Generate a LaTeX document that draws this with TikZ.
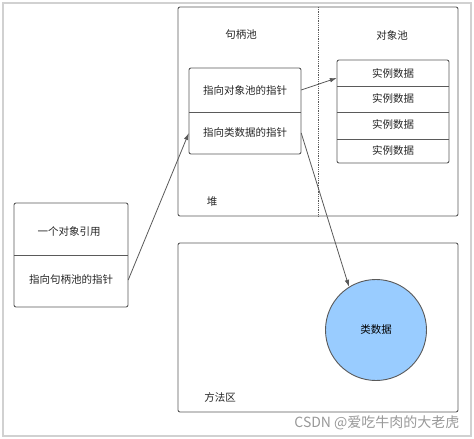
\documentclass[tikz,border=0pt]{standalone}
\usepackage{fontspec}
\setmainfont{Noto Sans CJK SC}
\usetikzlibrary{arrows.meta,calc}
\definecolor{ln}{HTML}{5A5A5A}
\definecolor{cfill}{HTML}{99CCFF}
\tikzset{
  box/.style={draw=ln, line width=0.9pt, rounded corners=2pt},
  cell/.style={inner sep=0pt, minimum width=#1, font=\fontsize{10.5}{12}\selectfont, text=black!85},
  lbl/.style={font=\fontsize{10.5}{12}\selectfont, text=black!85},
  arr/.style={draw=ln, line width=0.8pt, -{Latex[length=7pt,width=4.5pt]}},
}
\begin{document}
\begin{tikzpicture}[x=1pt,y=-1pt]
\useasboundingbox (0,0) rectangle (474,439);
\fill[white] (0,0) rectangle (474,439);
\draw[black!18, line width=1.2pt] (3,3) rectangle (471,436);
% heap
\draw[box] (178,7) rectangle (458,216);
\draw[ln, line width=0.8pt, densely dotted] (318,7) -- (318,216);
\node[lbl] (hp) at (241,35) {句柄池};
\node[lbl] (op) at (392,35) {对象池};
\node[lbl] (heap) at (212,202) {堆};
% handle box
\draw[box] (189,68) rectangle (301,154);
\draw[ln, line width=0.9pt] (189,112) -- (301,112);
\node[cell=112pt, minimum height=44pt] (h1) at (245,90) {指向对象池的指针};
\node[cell=112pt, minimum height=42pt] (h2) at (245,133) {指向类数据的指针};
% object pool
\draw[box] (337,60) rectangle (449,163);
\foreach \y in {86,112,139} \draw[ln, line width=0.9pt] (337,\y) -- (449,\y);
\node[cell=112pt, minimum height=26pt] (o1) at (393,73) {实例数据};
\node[cell=112pt, minimum height=26pt] (o2) at (393,98) {实例数据};
\node[cell=112pt, minimum height=26pt] (o3) at (393,124) {实例数据};
\node[cell=112pt, minimum height=24pt] (o4) at (393,150) {实例数据};
% left box
\draw[box] (14,203) rectangle (128,307);
\draw[ln, line width=0.9pt] (14,255) -- (128,255);
\node[cell=114pt, minimum height=52pt] (l1) at (69,232) {一个对象引用};
\node[cell=114pt, minimum height=52pt] (l2) at (71,280) {指向句柄池的指针};
% method area
\draw[box] (178,243) rectangle (458,412);
\node[lbl] (ma) at (220,397) {方法区};
\node[circle, draw=ln, line width=0.9pt, fill=cfill, minimum size=101pt, inner sep=0pt,
      font=\fontsize{10.5}{12}\selectfont] (cd) at (376,330) {类数据};
% arrows
\draw[arr] (l2.east) -- (h2.west);
\draw[arr] (h1.east) -- ([yshift=-5pt]o1.west);
\draw[arr] (h2.east) -- (cd.122);
% watermark
\node[font=\fontsize{14}{16}\selectfont, text=black!40, anchor=east] (wm) at (463,423) {CSDN @爱吃牛肉的大老虎};
\end{tikzpicture}
\end{document}
